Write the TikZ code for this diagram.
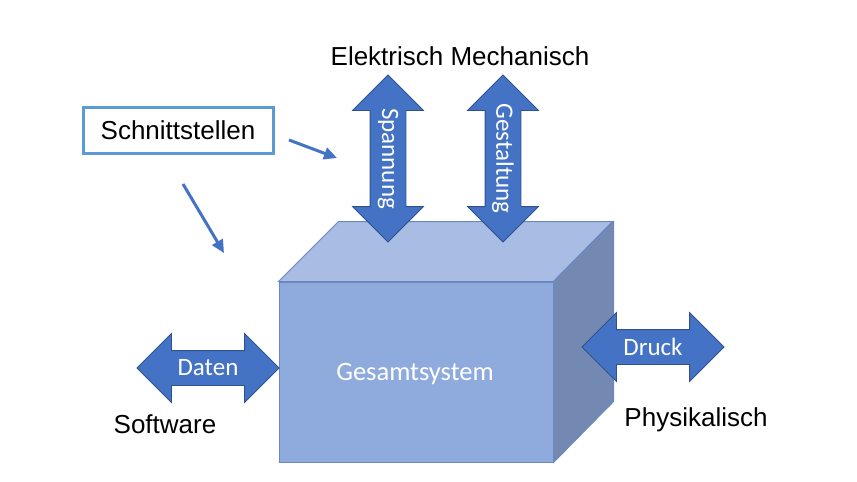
\documentclass[tikz,border=0pt]{standalone}
\usepackage{fontspec}
\setmainfont{Liberation Sans}
\newfontfamily\calibri{Carlito}
\usetikzlibrary{shapes.arrows, arrows.meta}
\definecolor{frontface}{HTML}{8FAADC}
\definecolor{topface}{HTML}{A9BCE3}
\definecolor{sideface}{HTML}{7489B1}
\definecolor{boxedge}{HTML}{6A88BF}
\definecolor{arrowfill}{HTML}{4472C4}
\definecolor{arrowedge}{HTML}{2F528F}
\definecolor{frame}{HTML}{5B9BD5}

\begin{document}
\begin{tikzpicture}[
  x=1pt, y=-1pt,
  caption/.style={font=\fontsize{26}{30}\selectfont, text=black, inner sep=0pt},
  inlabel/.style={font=\calibri\fontsize{25}{30}\selectfont, text=white, inner sep=0pt},
  face/.style={draw=boxedge, line width=1pt},
  bigarrow/.style={double arrow, double arrow tip angle=90, draw=arrowedge, fill=arrowfill, line width=0.8pt, inner xsep=0pt, inner ysep=17pt, minimum height=142pt, double arrow head extend=17pt},
  pointer/.style={-{Triangle[length=13pt, width=12pt]}, line width=3pt, arrowfill}
]
  \useasboundingbox (0,0) rectangle (857,482);

  % Box — front, top and side faces
  \node[face, fill=frontface, minimum width=274pt, minimum height=180pt] (system) at (416,372) {};
  \node[inlabel, font=\calibri\fontsize{26.5}{30}\selectfont] (systemtext) at (415,374) {Gesamtsystem};
  \draw[face, fill=topface] (system.north west) -- ++(60,-60) -- ++(274,0) -- (system.north east) -- cycle;
  \draw[face, fill=sideface] (system.north east) -- ++(60,-60) -- ++(0,180) -- (system.south east) -- cycle;

  % Block arrows
  \node[bigarrow] (daten) at (208,368) {};
  \node[inlabel] (datentext) at (daten.center) {Daten};
  \node[bigarrow] (druck) at (653,347) {};
  \node[inlabel] (drucktext) at (druck.center) {Druck};
  \node[bigarrow, rotate=90, minimum height=167pt, inner ysep=17.5pt, double arrow head extend=17.5pt] (spannung) at (388,158.5) {};
  \node[inlabel, rotate=-90] (spannungtext) at (spannung.center) {Spannung};
  \node[bigarrow, rotate=90, minimum height=167pt, inner ysep=17.5pt, double arrow head extend=17.5pt] (gestaltung) at (503,158.5) {};
  \node[inlabel, rotate=-90] (gestaltungtext) at (gestaltung.center) {Gestaltung};

  % Labels
  \node[caption] (elmech) at (460,56) {Elektrisch Mechanisch};
  \node[caption] (software) at (165,424) {Software};
  \node[caption] (physik) at (696,420) {Physikalisch};
  \node[caption, draw=frame, line width=3pt, minimum width=190pt, minimum height=46pt] (schnitt) at (178,130) {Schnittstellen};

  % Pointers
  \coordinate (ptrA start) at (289,140);
  \coordinate (ptrA end) at (337,158);
  \coordinate (ptrB start) at (183,184);
  \coordinate (ptrB end) at (224,253);
  \draw[pointer] (ptrA start) -- (ptrA end);
  \draw[pointer] (ptrB start) -- (ptrB end);
\end{tikzpicture}
\end{document}
